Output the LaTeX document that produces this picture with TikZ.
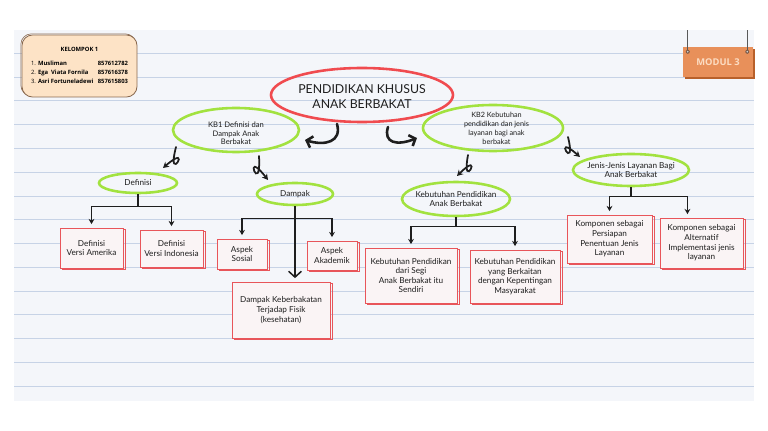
\documentclass[tikz,border=0pt]{standalone}
\usepackage{fontspec}
\setmainfont{Lato}
\newfontfamily\grpfont{Open Sans}
\usetikzlibrary{arrows.meta,calc,positioning}
\usetikzlibrary{shapes.geometric}

\definecolor{paper}{HTML}{F4F6FA}
\definecolor{rule}{HTML}{C7D3E6}
\definecolor{titlered}{HTML}{F04B4F}
\definecolor{boxred}{HTML}{E8555A}
\definecolor{boxfill}{HTML}{FAF4F5}
\definecolor{lime}{HTML}{A2E23F}
\definecolor{peach}{HTML}{FDE3C6}
\definecolor{peachline}{HTML}{8A6A50}
\definecolor{modulorange}{HTML}{E8905A}
\definecolor{modulshadow}{HTML}{B8602A}
\definecolor{modultext}{HTML}{FCDCC2}
\definecolor{pinbrown}{HTML}{7A5A48}
\definecolor{ink}{HTML}{1E1E1E}

\begin{document}
\begin{tikzpicture}[x=0.03cm,y=-0.03cm,
every node/.style={inner sep=0pt},
oval/.style={ellipse,draw=lime,line width=2.2pt},
ovaltext/.style={align=center,text=ink,font=\fontsize{7}{8.4}\selectfont},
redbox/.style={rectangle,draw=boxred,fill=boxfill,line width=.6pt,align=center,text=ink,
  font=\fontsize{7}{8.2}\selectfont,
  preaction={draw=boxred,line width=.5pt,transform canvas={shift={(1.6pt,-1.3pt)}}}},
tree/.style={draw=ink,line width=1.3pt},
branch/.style={tree,-{Stealth[length=4.5pt,width=5pt]},shorten >=3pt},
curly/.style={draw=ink,line width=1.5pt,line cap=round,-{Stealth[length=5pt,width=5.5pt]}},
hook/.style={draw=ink,line width=2.2pt,line cap=round,-{Straight Barb[length=4.5pt,width=10pt]}}]

\fill[white] (0,0) rectangle (768,431);
\useasboundingbox (0,0) rectangle (768,431);
\fill[paper] (14,30) rectangle (754,401);
\foreach \k in {0,...,14}
  \draw[rule,line width=.7pt] (14,{53.3+23.77*\k}) -- (754,{53.3+23.77*\k});

\node[draw=peachline,fill=peach,rounded corners=9pt,line width=.7pt,
  minimum width=3.45cm,minimum height=1.86cm,
  preaction={draw=peachline,line width=.5pt,transform canvas={shift={(-1pt,1pt)}}},
  font=\grpfont\bfseries\fontsize{5}{7.7}\selectfont] (kel) at (79.5,66)
  {\begin{tabular}{@{}p{57pt}@{}l@{}}
  \multicolumn{2}{c}{KELOMPOK 1}\\[4pt]
  {\mdseries 1.} Musliman & 857612782\\
  {\mdseries 2.} Ega\ \ Viata Fornila & 857616378\\
  {\mdseries 3.} Asri Fortuneladewi & 857615803
  \end{tabular}};

\node[fill=modulorange,minimum width=2.1cm,minimum height=0.9cm,
  preaction={fill=modulshadow,transform canvas={shift={(1.5pt,-1.5pt)}}},
  font=\grpfont\bfseries\fontsize{8}{9}\selectfont,text=modultext] (modul) at (718,62) {MODUL 3};
\draw[gray!70!black,line width=.5pt] ([shift={(5,5)}]modul.north west) -- ++(0,-22);
\draw[gray!70!black,line width=.5pt] ([shift={(-6,5)}]modul.north east) -- ++(0,-22);
\fill[pinbrown] ([shift={(5,5)}]modul.north west) circle (1.7pt);
\fill[pinbrown] ([shift={(-6,5)}]modul.north east) circle (1.7pt);
\fill[gray!30] ([shift={(5,5)}]modul.north west) circle (.7pt);
\fill[gray!30] ([shift={(-6,5)}]modul.north east) circle (.7pt);

\node[oval,draw=titlered,minimum width=5.46cm,minimum height=1.62cm,
  label={[ovaltext,font=\fontsize{10.5}{12.6}\selectfont,yshift=-1pt]center:{PENDIDIKAN KHUSUS\\ANAK BERBAKAT}}] (title) at (362,95) {};

\node[oval,minimum width=3.78cm,minimum height=1.32cm,
  label={[ovaltext,font=\fontsize{6.5}{7.4}\selectfont,yshift=-3pt]center:{KB1 Definisi dan\\Dampak Anak\\Berbakat}}] (kb1) at (236,130) {};
\node[oval,minimum width=4.2cm,minimum height=1.38cm,
  label={[ovaltext,font=\fontsize{6.2}{7.6}\selectfont,xshift=3pt]center:{KB2 Kebutuhan\\pendidikan dan jenis\\layanan bagi anak\\berbakat}}] (kb2) at (493,128) {};

\node[oval,minimum width=2.34cm,minimum height=0.6cm,
  label={[ovaltext]center:{Definisi}}] (def) at (138,183) {};
\node[oval,minimum width=2.28cm,minimum height=0.66cm,
  label={[ovaltext]center:{Dampak}}] (dampak) at (295,194) {};
\node[oval,minimum width=3.24cm,minimum height=1.02cm,
  label={[ovaltext]center:{Kebutuhan Pendidikan\\Anak Berbakat}}] (keb) at (456,199) {};
\node[oval,minimum width=3.48cm,minimum height=0.96cm,
  label={[ovaltext]center:{Jenis-Jenis Layanan Bagi\\Anak Berbakat}}] (jenis) at (631,170) {};

\node[redbox,minimum width=1.89cm,minimum height=1.2cm] (dva) at (91.5,248) {Definisi\\Versi Amerika};
\node[redbox,minimum width=1.89cm,minimum height=1.11cm] (dvi) at (171.5,248.5) {Definisi\\Versi Indonesia};
\node[redbox,minimum width=1.5cm,minimum height=0.9cm] (asos) at (242,254) {Aspek\\Sosial};
\node[redbox,minimum width=1.5cm,minimum height=0.87cm] (aaka) at (332,255.5) {Aspek\\Akademik};
\node[redbox,minimum width=2.94cm,minimum height=1.68cm] (dkf) at (281,310) {Dampak Keberbakatan\\Terjadap Fisik\\(kesehatan)};
\node[redbox,minimum width=2.76cm,minimum height=1.65cm] (kbs) at (411,275.5) {Kebutuhan Pendidikan\\dari Segi\\Anak Berbakat itu\\Sendiri};
\node[redbox,minimum width=2.7cm,minimum height=1.59cm] (kbm) at (515,276.5) {Kebutuhan Pendidikan\\yang Berkaitan\\dengan Kepentingan\\Masyarakat};
\node[redbox,minimum width=2.55cm,minimum height=1.44cm] (kpp) at (609.5,239) {Komponen sebagai\\Persiapan\\Penentuan Jenis\\Layanan};
\node[redbox,minimum width=2.49cm,minimum height=1.5cm] (kpa) at (701.5,243) {Komponen sebagai\\Alternatif\\Implementasi jenis\\layanan};

\draw[hook] ([shift={(-25,29)}]title.center) .. controls +(5,18) and +(20,6) .. ([shift={(69,10)}]kb1.center);
\draw[hook] ([shift={(26,32)}]title.center) .. controls +(-5,16) and +(-20,8) .. ([shift={(-76,10)}]kb2.center);

\draw[curly] ([shift={(-60,17)}]kb1.center) .. controls +(-10.3,40.1) and +(31.3,-27.1) .. ([shift={(25,-15)}]def.center);
\draw[curly] ([shift={(23,26)}]kb1.center) .. controls +(2.4,42.9) and +(-26.4,-33.9) .. ([shift={(-27,-14)}]dampak.center);
\draw[curly] ([shift={(-25,27)}]kb2.center) .. controls +(-7.1,39.1) and +(28.1,-28.1) .. ([shift={(1,-23)}]keb.center);
\draw[curly] ([shift={(75,9)}]kb2.center) .. controls +(9.2,38) and +(-29.2,-26) .. ([shift={(-51,-13)}]jenis.center);

\draw[tree] (def.south) -- ++(0,12) coordinate (defJ);
\draw[branch] (defJ) -| (dva.north);
\draw[branch] (defJ) -| (dvi.north);

\draw[tree] (dampak.south) -- ++(0,12) coordinate (dmpJ);
\draw[branch] (dmpJ) -| (asos.north);
\draw[branch] (dmpJ) -| (aaka.north);
\draw[tree,-{Straight Barb[length=5pt,width=11pt]},shorten >=3pt] (dmpJ) -- (dmpJ |- dkf.north);

\draw[tree] (keb.south) -- ++(0,9) coordinate (kebJ);
\draw[branch] (kebJ) -| (kbs.north);
\draw[branch] (kebJ) -| (kbm.north);

\draw[tree] (jenis.south) -- ++(0,9) coordinate (jnsJ);
\draw[branch] (jnsJ) -| (kpp.north);
\draw[branch] (jnsJ) -| ([xshift=-12pt]kpa.north);

\end{tikzpicture}
\end{document}
